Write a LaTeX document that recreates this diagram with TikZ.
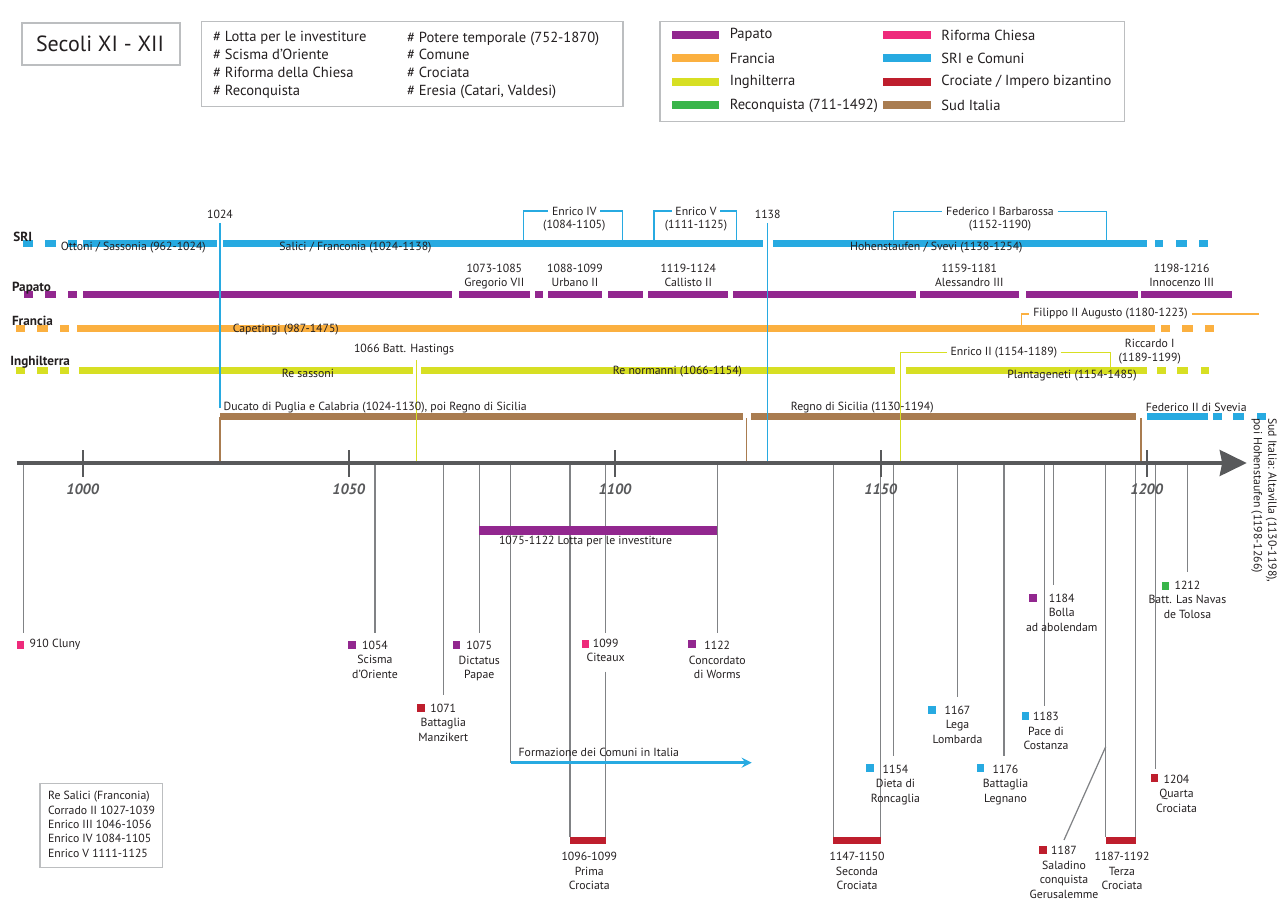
\documentclass[tikz,border=0pt]{standalone}
\usepackage{fontspec}
\setmainfont{PT Sans}
\usetikzlibrary{positioning,arrows.meta}
\definecolor{PapViolet}{HTML}{92278F}
\definecolor{FraOrange}{HTML}{FBB040}
\definecolor{IngLime}{HTML}{D7DF23}
\definecolor{RecGreen}{HTML}{39B54A}
\definecolor{RifPink}{HTML}{EE2A7B}
\definecolor{SriBlue}{HTML}{27AAE1}
\definecolor{CroRed}{HTML}{BE1E2D}
\definecolor{SudBrown}{HTML}{A97C50}
\definecolor{AxisGray}{HTML}{58595B}
\definecolor{EvtGray}{HTML}{808285}
\definecolor{BoxGray}{HTML}{BCBEC0}
\definecolor{Ink}{HTML}{231F20}

\begin{document}
\begin{tikzpicture}[x=0.02cm,y=-0.02cm,>=stealth,node distance=0.2cm,text=Ink]
  \tikzstyle{txt}=[inner sep=0pt,font=\fontsize{6.7}{8.2}\selectfont]
  \tikzstyle{evt}=[txt,align=center,anchor=north]
  \tikzstyle{gap}=[txt,inner xsep=2pt]
  \tikzstyle{big}=[inner sep=0pt,font=\fontsize{8.3}{10.2}\selectfont]
  \tikzstyle{rowname}=[inner sep=0pt,anchor=west,font=\bfseries\fontsize{7.5}{9}\selectfont]
  \tikzstyle{tag}=[inner sep=0pt,minimum width=0.15cm,minimum height=0.16cm]
  \tikzstyle{swatch}=[inner sep=0pt,minimum width=0.95cm,minimum height=0.16cm]
  \tikzstyle{box}=[draw=BoxGray,line width=0.7pt]
  \tikzstyle{evline}=[draw=EvtGray,line width=0.7pt]
  \tikzstyle{vline}=[line width=0.85pt]

  \useasboundingbox (0,0) rectangle (1280,905);

  % header boxes
  \draw[box] (22,23) rectangle (180,65);
  \node[inner sep=0pt,font=\fontsize{12.5}{14}\selectfont] (title) at (100,44) {Secoli XI - XII};

  \draw[box] (201.7,21.7) rectangle (623,106.7);
  \node[big,align=left,anchor=north west] (topicsA) at (212.7,31.3)
    {\# Lotta per le investiture\\\# Scisma d’Oriente\\\# Riforma della Chiesa\\\# Reconquista};
  \node[big,align=left,anchor=north west] (topicsB) at (406.7,31.3)
    {\# Potere temporale (752-1870)\\\# Comune\\\# Crociata\\\# Eresia (Catari, Valdesi)};

  \draw[box] (660,21.7) rectangle (1124.5,121.7);
  \foreach \c/\t/\yy [count=\i] in {PapViolet/Papato/35,FraOrange/Francia/58.5,
      IngLime/Inghilterra/82,RecGreen/Reconquista (711-1492)/105.5} {
    \node[swatch,fill=\c] (swL\i) at (695.3,\yy) {};
    \node[big,right=of swL\i] (lgL\i) {\t};
  }
  \foreach \c/\t/\yy [count=\i] in {RifPink/Riforma Chiesa/35,SriBlue/SRI e Comuni/58.5,
      CroRed/{Crociate / Impero bizantino}/82,SudBrown/Sud Italia/105.5} {
    \node[swatch,fill=\c] (swR\i) at (907,\yy) {};
    \node[big,right=of swR\i] (lgR\i) {\t};
  }

  % rows
  \foreach \a/\b in {23.3/33.3,45/56,68.3/77,82.7/216.7,223.3/763.3,772.7/1146.7,
      1155/1163.3,1175.7/1186.7,1199/1207.7}
    \fill[SriBlue] (\a,239.8) rectangle (\b,246.8);
  \foreach \a/\b in {24/32.7,45/56,68.3/77.3,82.7/452.3,459.3/530,535/543.3,548.3/602,
      607.7/643.3,648.3/728,733.3/916,920/1019.3,1025.7/1137.7,1141/1231.7}
    \fill[PapViolet] (\a,291.5) rectangle (\b,298.5);
  \foreach \a/\b in {16/25,36.7/48.3,60/69,77.3/1155,1160.7/1170,1181.7/1193.3,1205/1214}
    \fill[FraOrange] (\a,324.8) rectangle (\b,331.8);
  \foreach \a/\b in {16/25,36.7/48.3,60/69,79.3/412.7,420.7/895,905.7/1146.7,
      1156.7/1165.7,1177.3/1188.3,1200.7/1209.3}
    \fill[IngLime] (\a,366.8) rectangle (\b,373.8);
  \foreach \a/\b in {220/742.7,750.7/1135.7}
    \fill[SudBrown] (\a,413.2) rectangle (\b,420.2);
  \foreach \a/\b in {1146.7/1207.7,1212.7/1221.7,1233.3/1244.3,1256.7/1265.7}
    \fill[SriBlue] (\a,413.2) rectangle (\b,420.2);

  \node[rowname] (rSRI) at (13,236.7) {SRI};
  \node[rowname] (rPap) at (11.7,288) {Papato};
  \node[rowname] (rFra) at (11.7,320.7) {Francia};
  \node[rowname] (rIng) at (10,362.7) {Inghilterra};

  % SRI
  \node[txt] (n1024) at (220,214) {1024};
  \node[txt] (n1138) at (767.7,214) {1138};
  \draw[SriBlue,vline] (220,223) -- (220,408);
  \draw[SriBlue,vline] (767.7,223) -- (767.7,463);
  \node[txt] (ottoni) at (133.3,247.5) {Ottoni / Sassonia (962-1024)};
  \node[txt] (salici) at (355.5,247.5) {Salici / Franconia (1024-1138)};
  \node[txt] (hohen) at (936.3,247.5) {Hohenstaufen / Svevi (1138-1254)};
  \node[gap] (enr4) at (574.3,211) {Enrico IV};
  \node[txt] (enr4d) at (574.3,225.7) {(1084-1105)};
  \draw[SriBlue,vline] (523.3,239.8) |- (enr4.west);
  \draw[SriBlue,vline] (enr4.east) -| (622.3,239.8);
  \node[gap] (enr5) at (696,211) {Enrico V};
  \node[txt] (enr5d) at (696,225.7) {(1111-1125)};
  \draw[SriBlue,vline] (654,239.8) |- (enr5.west);
  \draw[SriBlue,vline] (enr5.east) -| (736.7,239.8);
  \node[gap] (fed1) at (1000,211.7) {Federico I Barbarossa};
  \node[txt] (fed1d) at (1000,225.7) {(1152-1190)};
  \draw[SriBlue,vline] (893.3,239.8) |- (fed1.west);
  \draw[SriBlue,vline] (fed1.east) -| (1106.7,239.8);

  % Papato
  \node[evt] (greg) at (494.3,263.8) {1073-1085\\Gregorio VII};
  \node[evt] (urb) at (575,263.8) {1088-1099\\Urbano II};
  \node[evt] (call) at (688.3,263.8) {1119-1124\\Callisto II};
  \node[evt] (aless) at (969.3,263.8) {1159-1181\\Alessandro III};
  \node[evt] (inno) at (1181.7,263.8) {1198-1216\\Innocenzo III};

  % Francia
  \node[txt] (capet) at (285.8,329.5) {Capetingi (987-1475)};
  \node[gap] (fil2) at (1110.5,314) {Filippo II Augusto (1180-1223)};
  \draw[FraOrange,vline] (1021.7,324.8) |- (fil2.west);
  \draw[FraOrange,vline] (fil2.east) -- (1259.3,314);

  % Inghilterra
  \node[txt] (hast) at (404,349.3) {1066 Batt. Hastings};
  \draw[IngLime,vline] (416.7,360) -- (416.7,463);
  \node[txt] (sass) at (308,373) {Re sassoni};
  \node[txt] (norm) at (677.5,372) {Re normanni (1066-1154)};
  \node[txt] (plant) at (1072,375.5) {Plantageneti (1154-1485)};
  \node[gap] (enr2) at (1003.8,352.3) {Enrico II (1154-1189)};
  \draw[IngLime,vline] (900.7,463) |- (enr2.west);
  \draw[IngLime,vline] (enr2.east) -| (1110.7,366.8);
  \node[evt] (ricc) at (1149.7,338.8) {Riccardo I\\(1189-1199)};

  % Sud Italia
  \draw[SudBrown,vline] (220,416.7) -- (220,463);
  \draw[SudBrown,vline] (746.7,418) -- (746.7,463);
  \draw[SudBrown,vline] (1141,418) -- (1141,463);
  \node[txt,anchor=west] (ducato) at (223.3,407.7) {Ducato di Puglia e Calabria (1024-1130), poi Regno di Sicilia};
  \node[txt] (regno) at (862.2,407.7) {Regno di Sicilia (1130-1194)};
  \node[txt] (fed2) at (1196.2,407.7) {Federico II di Svevia};
  \node[txt,rotate=-90,anchor=north west,align=left] (sudit) at (1277,418)
    {Sud Italia: Altavilla (1130-1198),\\poi Hohenstaufen (1198-1266)};

  % events
  \foreach \px/\py in {23.3/632.7,375/632.7,443.3/695,479.3/632.7,510.7/762.7,570/836.7,
      605.7/632.7,717.3/632.7,833.3/836.7,880.7/836.7,893.3/756,957.3/697,1004/756,
      1044.3/706,1053.7/585,1105.7/836.7,1135.7/836.7,1155.7/769,1187.7/571.7}
    \draw[evline] (\px,463) -- (\px,\py);
  \draw[evline] (605.7,671.7) -- (605.7,836.7);
  \draw[evline] (1105.7,746.7) -- (1064,840);

  \draw[AxisGray,line width=1.9pt,-{Stealth[length=0.54cm,width=0.52cm,inset=0.05cm]}] (16.7,463) -- (1246.7,463);
  \foreach \yr/\px in {1000/82.7,1050/348.7,1100/615,1150/880.7,1200/1146.7} {
    \draw[AxisGray,line width=1pt] (\px,450) -- (\px,476.7);
    \node[inner sep=0pt,text=AxisGray,font=\bfseries\itshape\fontsize{8.5}{10}\selectfont] (y\yr) at (\px,489.3) {\yr};
  }

  \fill[PapViolet] (479.3,525.5) rectangle (717.3,534.5);
  \node[txt] (lotta) at (585.5,541.5) {1075-1122 Lotta per le investiture};

  \draw[SriBlue,line width=1.5pt,->] (510.7,762.7) -- (751.7,762.7);
  \node[txt,anchor=west] (comuni) at (518.3,752.3) {Formazione dei Comuni in Italia};

  \foreach \a/\b in {570/605.7,833.3/880.7,1105.7/1135.7}
    \fill[CroRed] (\a,836.7) rectangle (\b,844);

  \foreach \c/\px/\py [count=\i] in {RifPink/20.3/644.7,PapViolet/352.2/645.3,CroRed/420.8/708.3,
      PapViolet/456.3/645.3,RifPink/585.3/643.8,PapViolet/692/644,SriBlue/870/767.5,
      SriBlue/932/709.5,SriBlue/980.5/767.5,SriBlue/1025.5/716.3,PapViolet/1033/598.3,
      CroRed/1042.8/850,CroRed/1154.7/777.8,RecGreen/1165.5/585.5}
    \node[tag,fill=\c] (m\i) at (\px,\py) {};

  \node[txt,anchor=west] (e910) at (29.3,645) {910 Cluny};
  \node[evt] (e1054) at (375,640.5) {1054\\Scisma\\d’Oriente};
  \node[evt] (e1071) at (443.3,703.8) {1071\\Battaglia\\Manzikert};
  \node[evt] (e1075) at (479.3,641.2) {1075\\Dictatus\\Papae};
  \node[evt] (e1099) at (605.7,638.8) {1099\\Citeaux};
  \node[evt] (e1122) at (717.3,641.2) {1122\\Concordato\\di Worms};
  \node[evt] (e1096) at (589.3,852.2) {1096-1099\\Prima\\Crociata};
  \node[evt] (e1147) at (857,852.2) {1147-1150\\Seconda\\Crociata};
  \node[evt] (e1154) at (895.5,764.5) {1154\\Dieta di\\Roncaglia};
  \node[evt] (e1167) at (957.5,705.5) {1167\\Lega\\Lombarda};
  \node[evt] (e1176) at (1005.5,764.5) {1176\\Battaglia\\Legnano};
  \node[evt] (e1183) at (1046,712.2) {1183\\Pace di\\Costanza};
  \node[evt] (e1184) at (1061.7,593.8) {1184\\Bolla\\ad abolendam};
  \node[evt] (e1187) at (1064,846.2) {1187\\Saladino\\conquista\\Gerusalemme};
  \node[evt] (e1189) at (1122,852.2) {1187-1192\\Terza\\Crociata};
  \node[evt] (e1204) at (1176.5,774.5) {1204\\Quarta\\Crociata};
  \node[evt] (e1212) at (1187.4,580.5) {1212\\Batt. Las Navas\\de Tolosa};

  \draw[box] (40,783.3) rectangle (162.7,867.7);
  \node[txt,align=left,anchor=north west] (resalici) at (47.7,791)
    {Re Salici (Franconia)\\Corrado II 1027-1039\\Enrico III 1046-1056\\Enrico IV 1084-1105\\Enrico V 1111-1125};
\end{tikzpicture}
\end{document}
